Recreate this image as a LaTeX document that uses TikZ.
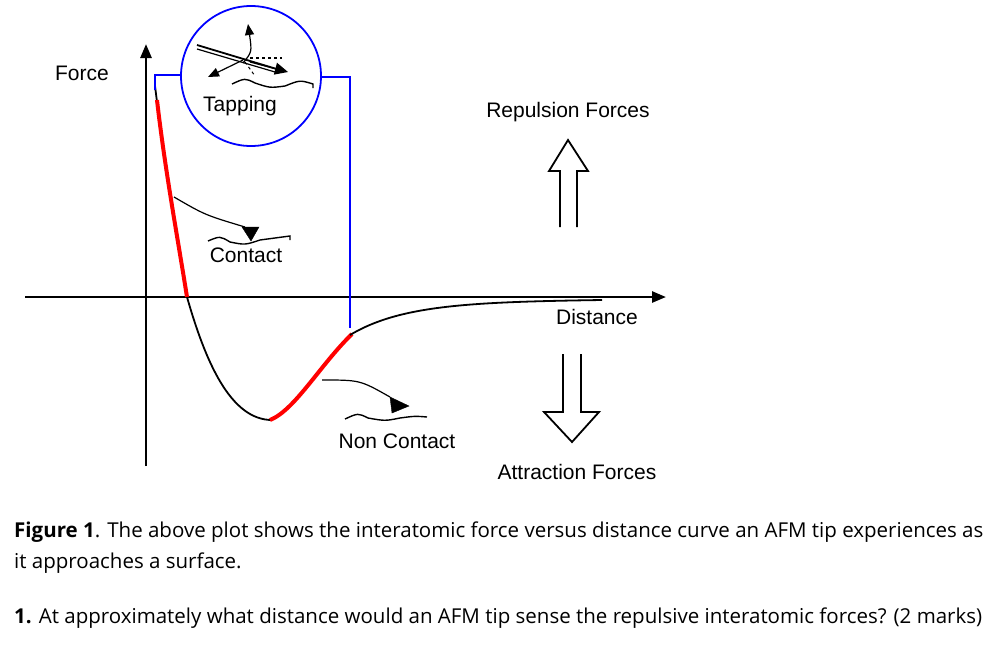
\documentclass[tikz,border=0pt]{standalone}
\usepackage{fontspec}
\setmainfont{Liberation Sans}
\newfontfamily\capfont{Open Sans}
\usetikzlibrary{arrows.meta}
\begin{document}
\begin{tikzpicture}[x=1pt,y=-1pt,
  lab/.style={font=\fontsize{21}{24}\selectfont,inner sep=0},
  captxt/.style={font=\capfont\fontsize{20.5}{24}\selectfont,anchor=west,inner sep=0},
  ax/.style={line width=2.6pt,-{Triangle[length=14pt,width=11pt]}},
  bl/.style={blue,line width=1.8pt},
  rd/.style={red,line width=4pt},
  bk/.style={black,line width=1.8pt},
  tri/.style={fill=black},
  wav/.style={line width=1.4pt},
  hol/.style={line width=1.8pt}]
\useasboundingbox (0,0) rectangle (998,651);
% axes
\coordinate (y0) at (146,466); \coordinate (y1) at (146,44);
\coordinate (x0) at (25,297); \coordinate (x1) at (666,297);
\draw[ax] (y0) -- (y1);
\draw[ax] (x0) -- (x1);
% curve
\draw[bk] (155,86) -- (157,102);
\draw[rd] (157,100) .. controls (165,170) and (178,240) .. (187,297);
\draw[bk] (187,297) .. controls (205,360) and (230,420) .. (272,420);
\draw[rd] (270,420) .. controls (295,410) and (320,365) .. (352,334);
\draw[bk] (350,335) .. controls (400,305) and (470,302) .. (602,300);
% tapping box
\coordinate (c) at (251,76);
\draw[bl] (155,90) -- (155,75) -- (181,75);
\draw[bl] (c) circle (70);
\draw[bl] (321,77) -- (350,77) -- (350,328);
% tapping glyph
\draw[line width=1.8pt] (197,45) -- (280,70);
\draw[line width=1.2pt] (197,49) -- (275,72);
\draw[line width=1.2pt,dashed] (250,58) -- (282,58);
\draw[-{Triangle[length=13pt,width=12pt]},line width=1.2pt] (250,62) -- (288,72);
\draw[-{Triangle[length=11pt,width=9pt]},line width=1.2pt] (243,63) .. controls (252,52) .. (248,24);
\draw[-{Triangle[length=11pt,width=9pt]},line width=1.2pt] (243,60) -- (208,77);
\draw[line width=1pt,dashed] (245,62) -- (255,76);
\draw[wav] (232,84) .. controls (245,78) .. (255,83) .. controls (270,88) .. (285,86) .. controls (300,80) .. (313,84) -- (313,88);
\node[lab] (tap) at (240,106) {Tapping};
% contact
\draw[line width=1.2pt] (174,197) .. controls (205,215) .. (245,227);
\draw[tri] (242,227) -- (259,227) -- (251,241) -- cycle;
\draw[wav] (208,241) .. controls (220,236) .. (230,242) .. controls (245,245) .. (260,240) .. controls (275,238) .. (290,236) -- (290,240);
\node[lab] (con) at (246,255) {Contact};
% non contact
\draw[line width=1.2pt] (322,380) .. controls (360,380) .. (390,397);
\draw[tri] (390,397) -- (409,406) -- (392,413) -- cycle;
\draw[wav] (345,419) .. controls (358,413) .. (368,418) .. controls (385,421) .. (400,418) .. controls (415,416) .. (427,417);
\node[lab] (nc) at (397,441) {Non Contact};
% labels
\node[lab] (f) at (82,73) {Force};
\node[lab] (rep) at (568,112) {Repulsion Forces};
\node[lab] (dist) at (597,317) {Distance};
\node[lab] (att) at (577,472) {Attraction Forces};
% hollow arrows
\draw[hol] (560,227) -- (560,171) -- (549,171) -- (568,140) -- (588,171) -- (577,171) -- (577,227);
\draw[hol] (563,354) -- (563,412) -- (544,412) -- (572,442) -- (599,412) -- (581,412) -- (581,354);
% caption
\node[captxt] (c1) at (14,532) {\textbf{Figure 1}. The above plot shows the interatomic force versus distance curve an AFM tip experiences as};
\node[captxt] (c2) at (14,563) {it approaches a surface.};
\node[captxt] (c3) at (14,618) {\textbf{1.} At approximately what distance would an AFM tip sense the repulsive interatomic forces? (2 marks)};
\end{tikzpicture}
\end{document}
